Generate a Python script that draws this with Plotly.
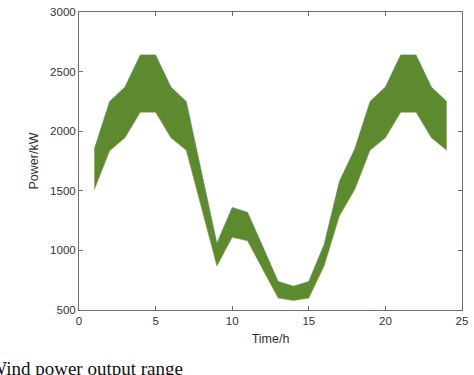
import plotly.graph_objects as go

hours = list(range(1, 25))
upper_kw = [1850, 2250, 2370, 2640, 2640, 2370, 2250, 1650, 1060, 1360, 1320, 1030,
            740, 700, 740, 1050, 1580, 1850, 2250, 2370, 2640, 2640, 2370, 2250]
lower_kw = [1510, 1835, 1945, 2160, 2160, 1945, 1840, 1360, 870, 1110, 1080, 840,
            600, 580, 600, 870, 1290, 1510, 1840, 1945, 2160, 2160, 1945, 1840]

x_ticks = [0, 5, 10, 15, 20, 25]
y_ticks = [500, 1000, 1500, 2000, 2500, 3000]

fill_color = "#5e8a2f"

fig = go.Figure()
fig.add_trace(go.Scatter(x=hours, y=lower_kw, mode="lines",
                         line=dict(color="#8a9a35", width=0.6),
                         showlegend=False, hoverinfo="skip"))
fig.add_trace(go.Scatter(x=hours, y=upper_kw, mode="lines",
                         line=dict(color="#4f8a6a", width=0.6),
                         fill="tonexty", fillcolor=fill_color,
                         showlegend=False))

axis_common = dict(
    showline=True, linecolor="#6e6e6e", linewidth=1, mirror="ticks",
    ticks="inside", ticklen=4, tickcolor="#6e6e6e", tickwidth=1,
    showgrid=False, zeroline=False,
    tickfont=dict(family="Liberation Sans, Arial, sans-serif", size=11.5, color="#333333"),
)

fig.update_xaxes(range=[0, 25], tickvals=x_ticks,
                 title=dict(text="Time/h", standoff=8,
                            font=dict(family="Liberation Sans, Arial, sans-serif", size=12.5, color="#333333")),
                 **axis_common)
fig.update_yaxes(range=[500, 3000], tickvals=y_ticks,
                 title=dict(text="Power/kW", standoff=8,
                            font=dict(family="Liberation Sans, Arial, sans-serif", size=12.5, color="#333333")),
                 **axis_common)

fig.add_annotation(text="Wind power output range", xref="paper", yref="paper",
                   x=-0.24, y=-0.197, xanchor="left", yanchor="middle",
                   showarrow=False,
                   font=dict(family="Liberation Serif, Times New Roman, serif", size=19, color="#111111"))

fig.update_layout(
    width=474, height=375,
    margin=dict(l=79, r=8, t=6, b=65),
    paper_bgcolor="white", plot_bgcolor="white",
)

fig.write_html("out.html")
